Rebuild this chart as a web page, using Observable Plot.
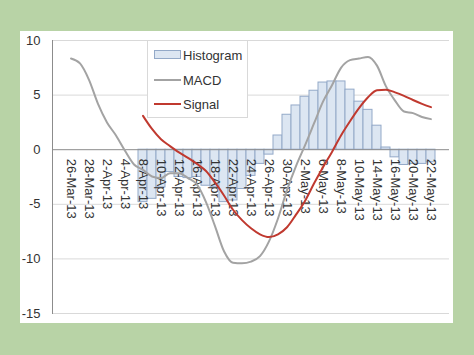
<!DOCTYPE html>
<html><head><meta charset="utf-8">
<script src="https://cdn.jsdelivr.net/npm/d3@7"></script>
<script src="https://cdn.jsdelivr.net/npm/@observablehq/plot@0.6"></script>
<style>
html,body{margin:0;padding:0;background:#b8d3a6;width:474px;height:355px;overflow:hidden}
#chart{position:absolute;left:20px;top:31px;width:433px;height:292px;background:#fff}
</style></head><body><div id="chart"></div>
<script>
const dates = ["26-Mar-13","27-Mar-13","28-Mar-13","1-Apr-13","2-Apr-13","3-Apr-13","4-Apr-13","5-Apr-13",
  "8-Apr-13","9-Apr-13","10-Apr-13","11-Apr-13","12-Apr-13","15-Apr-13","16-Apr-13","17-Apr-13","18-Apr-13","19-Apr-13",
  "22-Apr-13","23-Apr-13","24-Apr-13","25-Apr-13","26-Apr-13","29-Apr-13","30-Apr-13","1-May-13","2-May-13","3-May-13",
  "6-May-13","7-May-13","8-May-13","9-May-13","10-May-13","13-May-13","14-May-13","15-May-13","16-May-13","17-May-13",
  "20-May-13","21-May-13","22-May-13"];
const macd = [8.35,7.9,6.4,4.2,2.5,1.3,-0.1,-1.35,
  -1.85,-2.45,-2.6,-2.15,-2.15,-2.6,-3.2,-4.8,-7.0,-9.3,
  -10.35,-10.4,-10.25,-9.75,-8.4,-6.3,-3.7,-1.5,0.4,2.4,
  4.4,5.9,7.5,8.2,8.35,8.5,7.7,5.8,4.5,3.5,
  3.35,3.0,2.8];
const signal = [null,null,null,null,null,null,null,null,
  3.1,1.9,0.95,0.33,-0.25,-0.75,-1.3,-1.95,-3.0,-4.2,
  -5.5,-6.45,-7.2,-7.75,-8.0,-7.75,-7.1,-5.95,-4.7,-3.1,
  -1.6,-0.2,1.3,2.6,3.8,4.8,5.45,5.5,5.25,4.93,
  4.55,4.2,3.9];
const histogram = [null,null,null,null,null,null,null,null,
  -4.8,-4.5,-3.45,-2.05,-2.5,-2.6,-2.5,-3.3,-3.4,-4.8,
  -4.65,-3.6,-2.4,-1.3,-0.45,1.3,3.2,4.05,4.85,5.4,
  6.15,6.25,6.25,5.5,4.4,3.65,2.2,0.2,-0.7,-1.4,
  -1.3,-1.3,-1.15];
const tickLabels = ["26-Mar-13","28-Mar-13","2-Apr-13","4-Apr-13","8-Apr-13","10-Apr-13","12-Apr-13","16-Apr-13",
  "18-Apr-13","22-Apr-13","24-Apr-13","26-Apr-13","30-Apr-13","2-May-13","6-May-13","8-May-13","10-May-13",
  "14-May-13","16-May-13","20-May-13","22-May-13"];
const yTicks = [-15,-10,-5,0,5,10];
const gridValues = [-15,-10,-5,5,10];
const legendItems = ["Histogram","MACD","Signal"];

const rows = dates.map((d,i)=>({date:d, macd:macd[i], signal:signal[i], hist:histogram[i]}));
const font = "'Liberation Sans', Arial, sans-serif";

const chart = Plot.plot({
  width: 433, height: 292,
  marginLeft: 32, marginRight: 4, marginTop: 9, marginBottom: 10,
  style: {fontFamily: font, fontSize: "13px", background: "#fff", color: "#333"},
  x: {type: "band", domain: dates, padding: 0, axis: null},
  y: {domain: [-15, 10], ticks: yTicks, tickSize: 0, tickPadding: 12, tickFormat: d => String(d), label: null},
  marks: [
    Plot.ruleY(gridValues, {stroke: "#d9d9d9", strokeWidth: 1}),
    Plot.barY(rows.filter(r => r.hist != null), {x: "date", y: "hist", fill: "#dce6f2", stroke: "#93a9c8", strokeWidth: 1, inset: 0}),
    Plot.ruleY([0], {stroke: "#8c8c8c", strokeWidth: 1}),
    Plot.frame({anchor: "left", stroke: "#8c8c8c"}),
    Plot.text(tickLabels, {x: d => d, y: () => 0, text: d => d, rotate: 90, textAnchor: "start", dy: 9, fontSize: 13, fill: "#333"}),
    Plot.line(rows, {x: "date", y: "macd", stroke: "#a3a3a3", strokeWidth: 2, curve: "monotone-x"}),
    Plot.line(rows, {x: "date", y: "signal", stroke: "#c0392f", strokeWidth: 2, curve: "monotone-x"})
  ]
});
document.getElementById("chart").appendChild(chart);

// legend
const svg = d3.select(chart);
const lg = svg.append("g").attr("font-family", font).attr("font-size", 13).attr("fill", "#333").attr("text-anchor", "start");
lg.append("rect").attr("x", 127.5).attr("y", 9.5).attr("width", 100).attr("height", 77)
  .attr("fill", "#fff").attr("stroke", "#d9d9d9");
const rowsY = [24, 49, 73];
lg.append("rect").attr("x", 134.5).attr("y", rowsY[0] - 4.5).attr("width", 26).attr("height", 8)
  .attr("fill", "#dce6f2").attr("stroke", "#93a9c8");
lg.append("line").attr("x1", 134).attr("x2", 161).attr("y1", rowsY[1]).attr("y2", rowsY[1])
  .attr("stroke", "#a3a3a3").attr("stroke-width", 2);
lg.append("line").attr("x1", 134).attr("x2", 161).attr("y1", rowsY[2]).attr("y2", rowsY[2])
  .attr("stroke", "#c0392f").attr("stroke-width", 2);
legendItems.forEach((t, i) => {
  lg.append("text").attr("x", 163).attr("y", rowsY[i]).attr("dy", "0.35em").attr("text-anchor", "start").text(t);
});
</script></body></html>
